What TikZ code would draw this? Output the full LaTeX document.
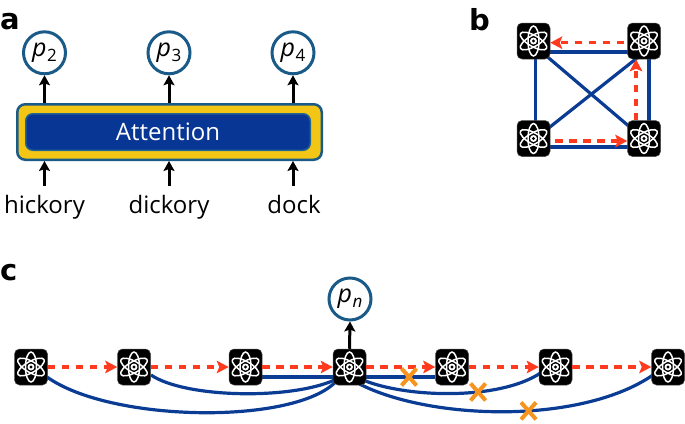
\documentclass[tikz,border=0pt]{standalone}
\usepackage{fontspec}
\setmainfont{Open Sans}
\newfontfamily\labfont{DejaVu Sans}
\usetikzlibrary{arrows.meta,shapes.misc,calc}
\definecolor{circblue}{RGB}{26,90,136}
\definecolor{boxyellow}{RGB}{243,198,22}
\definecolor{boxnavy}{RGB}{7,54,148}
\definecolor{innerrim}{RGB}{36,100,145}
\definecolor{linkblue}{RGB}{11,60,148}
\definecolor{arrred}{RGB}{255,58,30}
\definecolor{xorange}{RGB}{247,148,30}
\pgfdeclarelayer{bg}
\pgfsetlayers{bg,main}
\newcommand\psub[1]{{\fontsize{25}{25}\selectfont\itshape p}\kern0.5pt\raisebox{-5pt}{\fontsize{17}{17}\selectfont #1}}
\tikzset{
  panellab/.style={font=\labfont\bfseries\fontsize{29}{29}\selectfont, anchor=base west, inner sep=0pt},
  pcirc/.style={circle, draw=circblue, line width=3pt, fill=white, minimum size=42pt, inner sep=0pt},
  word/.style={font=\fontsize{24}{24}\selectfont, anchor=base, inner sep=0pt},
  arr/.style={black, line width=3pt, -{Stealth[length=10pt,width=11pt,inset=2pt]}},
  redarr/.style={arrred, line width=3.2pt, dash pattern=on 7.5pt off 6.5pt, -{Stealth[length=12pt,width=12.5pt,inset=2.5pt]}},
  link/.style={linkblue, line width=3.2pt},
  xmark/.style={cross out, draw=xorange, line width=4pt, minimum width=11pt, minimum height=13pt, inner sep=0pt},
  atom/.style={rounded corners=5pt, fill=black, draw=black!70, line width=0.5pt,
    minimum width=33pt, minimum height=36pt, inner sep=0pt,
    path picture={
      \coordinate (@c) at (path picture bounding box.center);
      \draw[white, line width=1.5pt] (@c) circle [x radius=5.5pt, y radius=15pt];
      \draw[white, line width=1.5pt] (@c) circle [x radius=15pt, y radius=5.5pt, rotate=30];
      \draw[white, line width=1.5pt] (@c) circle [x radius=15pt, y radius=5.5pt, rotate=-30];
      \fill[white] (@c) circle [radius=3.5pt];
      \fill[black] (@c) circle [radius=1.6pt];
    }},
}
\begin{document}
\begin{tikzpicture}[x=1pt, y=-1pt]
\useasboundingbox (0,0) rectangle (685,423);

% ---------------- panel a ----------------
\node[panellab] (la) at (0,29.5) {a};
\node[rectangle, rounded corners=8pt, fill=boxyellow, draw=circblue, line width=2.5pt,
      minimum width=304.5pt, minimum height=55.5pt] (box) at (169.5,132) {};
\node[rectangle, rounded corners=7pt, fill=boxnavy, draw=innerrim, line width=1.5pt,
      minimum width=284.5pt, minimum height=36.5pt, text=white,
      font=\fontsize{24}{24}\selectfont] (inner) at (168,132) {Attention};
\node[pcirc] (p2) at (44.5,52.8) {\psub{2}};
\node[pcirc] (p3) at (169,52.8) {\psub{3}};
\node[pcirc] (p4) at (293,52.8) {\psub{4}};
\draw[arr] (p2.south |- box.north) -- (p2.south);
\draw[arr] (p3.south |- box.north) -- (p3.south);
\draw[arr] (p4.south |- box.north) -- (p4.south);
\node[word] (w1) at (44.5,213) {hickory};
\node[word] (w2) at (169,213) {dickory};
\node[word] (w3) at (294,213) {dock};
\coordinate (t1) at (44.5,186);
\coordinate (t2) at (169,186);
\coordinate (t3) at (293,186);
\draw[arr] (t1) -- (t1 |- box.south);
\draw[arr] (t2) -- (t2 |- box.south);
\draw[arr] (t3) -- (t3 |- box.south);

% ---------------- panel b ----------------
\node[panellab] (lb) at (469,30) {b};
\node[atom] (tl) at (533.5,41) {};
\node[atom] (tr) at (644,41) {};
\node[atom] (bl) at (533.5,138.5) {};
\node[atom] (br) at (644,138.5) {};
\begin{pgfonlayer}{bg}
  \draw[link, line join=miter] ([shift={(2pt,-11pt)}]tl.center) -- ([shift={(5pt,-11pt)}]tr.center)
     -- ([shift={(5pt,-8.5pt)}]br.center) -- ([shift={(2pt,-8.5pt)}]bl.center) -- cycle;
  \draw[link] ([yshift=-4pt]tl.center) -- ([yshift=-0.6pt]br.center);
  \draw[link] ([yshift=-1.5pt]bl.center) -- ([yshift=-11.5pt]tr.center);
\end{pgfonlayer}
\draw[redarr] ([shift={(-3pt,-1.7pt)}]tr.west) -- ([yshift=-1.7pt]tl.east);
\draw[redarr] ([xshift=-8pt]br.north) -- ([xshift=-8pt]tr.south);
\draw[redarr] ([shift={(5pt,-2.5pt)}]bl.east) -- ([yshift=-2.5pt]br.west);

% ---------------- panel c ----------------
\node[panellab] (lc) at (0,280) {c};
\node[atom] (a1) at (31,367) {};
\node[atom] (a2) at (134,367) {};
\node[atom] (a3) at (245.5,367) {};
\node[atom] (a4) at (349.5,367) {};
\node[atom] (a5) at (452,367) {};
\node[atom] (a6) at (555.5,367) {};
\node[atom] (a7) at (668,367) {};
\node[pcirc] (pn) at (350,299) {\psub{\itshape n}};
\draw[arr] (a4.north) -- (pn.south);
\draw[redarr] (a1.east) -- (a2.west);
\draw[redarr] (a2.east) -- (a3.west);
\draw[redarr] (a3.east) -- (a4.west);
\draw[redarr] (a4.east) -- (a5.west);
\draw[redarr] (a5.east) -- (a6.west);
\draw[redarr] (a6.east) -- (a7.west);
\begin{pgfonlayer}{bg}
  \draw[link] ([shift={(16pt,-10pt)}]a1.center) .. controls (110,422) and (290,425) .. ([shift={(-15pt,-16pt)}]a4.center);
  \draw[link] ([shift={(17pt,-8pt)}]a2.center) .. controls (185,398) and (290,400) .. ([shift={(-15pt,-13pt)}]a4.center);
  \draw[link] ([yshift=-10pt]a3.east) -- ([yshift=-10pt]a4.west);
  \draw[link] ([yshift=-10pt]a4.east) -- ([yshift=-10pt]a5.west);
  \draw[link] ([shift={(16pt,-14pt)}]a4.center) .. controls (410,398) and (500,400) .. ([shift={(-15pt,-6pt)}]a6.center);
  \draw[link] ([shift={(10pt,-17pt)}]a4.center) .. controls (430,420) and (580,425) .. ([shift={(-15pt,-8pt)}]a7.center);
\end{pgfonlayer}
\path ([yshift=-10pt]a4.east) -- ([yshift=-10pt]a5.west) node[xmark, pos=0.62] (x1) {};
\path ([shift={(16pt,-14pt)}]a4.center) .. controls (410,398) and (500,400) .. ([shift={(-15pt,-6pt)}]a6.center) node[xmark, pos=0.62] (x2) {};
\path ([shift={(10pt,-17pt)}]a4.center) .. controls (430,420) and (580,425) .. ([shift={(-15pt,-8pt)}]a7.center) node[xmark, pos=0.57] (x3) {};
\end{tikzpicture}
\end{document}
